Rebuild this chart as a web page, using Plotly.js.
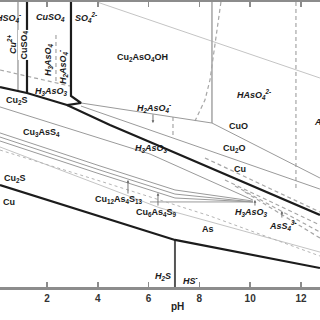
<!DOCTYPE html>
<html>
<head>
<meta charset="utf-8">
<script src="https://cdn.plot.ly/plotly-3.0.1.min.js"></script>
<style>html,body{margin:0;padding:0;background:#fff}#chart{width:320px;height:320px}</style>
</head>
<body>
<div id="chart"></div>
<script>
// ---- boundary lines (pH, Eh in V) ----
const o2LinePH = [3.968, 12.748];            const o2LineEh = [1.150, 0.630];
const cuVertPH = [0.858, 0.858];             const cuVertEh = [1.150, 0.541];
const sVert1PH = [1.213, 1.213];             const sVert1Eh = [1.150, 0.527];
const sVert2PH = [2.945, 2.945, 3.339, 2.787]; const sVert2Eh = [1.150, 0.507, 0.459, 0.445];
const thickUpperPH = [0.150, 1.213, 2.787, 4.480, 6.331, 12.079, 12.748];
const thickUpperEh = [0.568, 0.527, 0.445, 0.308, 0.172, -0.259, -0.307];
const asDashV1PH = [2.354, 2.354];           const asDashV1Eh = [0.924, 0.589];
const asDashDiagPH = [0.150, 2.905];         const asDashDiagEh = [0.685, 0.575];
const cuOLinePH = [3.339, 8.496, 12.748];    const cuOLineEh = [0.459, 0.322, -0.054];
const cu2OLinePH = [3.339, 12.748];          const cu2OLineEh = [0.438, -0.130];
const cuAsVertPH = [8.496, 8.496];           const cuAsVertEh = [1.150, 0.322];
const asDashCurvePH = [8.850, 8.653, 8.417, 8.220, 7.827];
const asDashCurveEh = [1.150, 0.890, 0.616, 0.479, 0.336];
const asDashV2PH = [6.961, 6.961];           const asDashV2Eh = [0.363, 0.219];
const asDashV3PH = [11.803, 11.803];         const asDashV3Eh = [1.150, -0.136];
const h3aso3TopPH = [0.150, 6.055, 10.110];  const h3aso3TopEh = [0.432, 0.110, -0.205];
const band1PH = [0.150, 4.087, 7.039, 10.110]; const band1Eh = [0.254, 0.028, -0.136, -0.212];
const band2PH = [0.150, 4.087, 7.039, 10.110]; const band2Eh = [0.226, 0.000, -0.164, -0.218];
const band3PH = [0.150, 4.087, 7.039, 10.110]; const band3Eh = [0.199, -0.027, -0.191, -0.218];
const bandFlatPH = [6.055, 10.110];          const bandFlatEh = [-0.218, -0.218];
const asLowPH = [0.150, 6.449, 12.748];      const asLowEh = [0.158, -0.259, -0.561];
const asDotPH = [0.150, 4.087, 8.417, 12.748]; const asDotEh = [0.137, -0.075, -0.314, -0.588];
const dashNearPH = [8.220, 12.748];          const dashNearEh = [0.083, -0.287];
const dashA1PH = [9.008, 12.748];            const dashA1Eh = [-0.068, -0.376];
const dashA2PH = [9.401, 12.748];            const dashA2Eh = [-0.109, -0.424];
const dashA3PH = [9.795, 12.748];            const dashA3Eh = [-0.150, -0.465];
const thickLowerPH = [0.150, 7.039, 12.748]; const thickLowerEh = [-0.102, -0.478, -0.670];
const h2sVertPH = [7.039, 7.039];            const h2sVertEh = [-0.478, -0.800];

// ---- axis ticks ----
const tickVals = [2, 4, 6, 8, 10, 12];
const tickText = ['2', '4', '6', '8', '10', '12'];

// ---- region labels ----
const labelText = [
  'HSO<sub>4</sub><sup>-</sup>', 'CuSO<sub>4</sub>', 'SO<sub>4</sub><sup>2-</sup>',
  'Cu<sup>2+</sup>', 'CuSO<sub>4</sub>', 'H<sub>3</sub>AsO<sub>4</sub>', 'H<sub>2</sub>AsO<sub>4</sub><sup>-</sup>',
  'Cu<sub>2</sub>AsO<sub>4</sub>OH', 'HAsO<sub>4</sub><sup>2-</sup>', 'AsO<sub>4</sub><sup>3-</sup>',
  'H<sub>3</sub>AsO<sub>3</sub>', 'Cu<sub>2</sub>S', 'H<sub>2</sub>AsO<sub>4</sub><sup>-</sup>',
  'CuO', 'Cu<sub>2</sub>O', 'Cu', 'Cu<sub>3</sub>AsS<sub>4</sub>', 'H<sub>3</sub>AsO<sub>3</sub>',
  'Cu<sub>2</sub>S', 'Cu', 'Cu<sub>12</sub>As<sub>4</sub>S<sub>13</sub>', 'Cu<sub>6</sub>As<sub>4</sub>S<sub>9</sub>',
  'As', 'H<sub>3</sub>AsO<sub>3</sub>', 'AsS<sub>4</sub><sup>3-</sup>', 'H<sub>2</sub>S', 'HS<sup>-</sup>'
];
const labelPH = [0.465, 2.157, 3.535, 0.622, 1.114, 2.039, 2.590, 5.779, 10.150, 12.470,
  2.197, 0.819, 6.210, 9.560, 9.400, 9.600, 1.800, 6.130, 0.740, 0.504, 4.835, 6.330,
  8.340, 10.070, 11.290, 6.570, 7.670];
const labelEh = [1.047, 1.047, 1.047, 0.863, 0.856, 0.760, 0.705, 0.767, 0.514, 0.329,
  0.541, 0.479, 0.425, 0.302, 0.151, 0.007, 0.260, 0.151, -0.061, -0.218, -0.198, -0.287,
  -0.403, -0.287, -0.376, -0.731, -0.752];
const labelKind = ['aq', 'aq', 'aq', 'aqRot', 'solidRot', 'aqRot', 'aqRot', 'solid', 'aq', 'aqLeft',
  'aq', 'solid', 'aq', 'solid', 'solid', 'solid', 'solid', 'aq', 'solid', 'solid', 'solid', 'solid',
  'solid', 'aq', 'aq', 'aq', 'aq'];

// ---- pointer arrows (tail -> tip) ----
const arrowTailPH = [6.173, 5.189, 6.370, 10.189, 11.250];
const arrowTailEh = [0.391, -0.171, -0.253, -0.253, -0.335];
const arrowTipPH  = [6.173, 5.189, 6.370, 10.189, 11.250];
const arrowTipEh  = [0.322, -0.068, -0.157, -0.205, -0.280];

const FONT = 'Arial, "Liberation Sans", sans-serif';
const ST = {
  thick: {color: '#1c1c1c', width: 2.2},
  thin: {color: '#9a9a9a', width: 1},
  light: {color: '#c4c4c4', width: 1},
  dash: {color: '#a6a6a6', width: 1.2, dash: '4px,3px'},
  dot: {color: '#b5b5b5', width: 1, dash: 'dot'},
  vgray: {color: '#aaaaaa', width: 1.6},
  vdark: {color: '#555555', width: 2}
};
const lines = [
  [o2LinePH, o2LineEh, 'light'], [cuVertPH, cuVertEh, 'vgray'], [cuAsVertPH, cuAsVertEh, 'vgray'],
  [asDashV1PH, asDashV1Eh, 'dash'], [asDashDiagPH, asDashDiagEh, 'dash'], [asDashCurvePH, asDashCurveEh, 'dash'],
  [asDashV2PH, asDashV2Eh, 'dash'], [asDashV3PH, asDashV3Eh, 'dash'],
  [cuOLinePH, cuOLineEh, 'thin'], [cu2OLinePH, cu2OLineEh, 'thin'], [h3aso3TopPH, h3aso3TopEh, 'thin'],
  [band1PH, band1Eh, 'thin'], [band2PH, band2Eh, 'thin'], [band3PH, band3Eh, 'thin'], [bandFlatPH, bandFlatEh, 'thin'],
  [asLowPH, asLowEh, 'light'], [asDotPH, asDotEh, 'dot'],
  [dashNearPH, dashNearEh, 'dash'], [dashA1PH, dashA1Eh, 'dash'], [dashA2PH, dashA2Eh, 'dash'], [dashA3PH, dashA3Eh, 'dash'],
  [h2sVertPH, h2sVertEh, 'vdark'],
  [sVert1PH, sVert1Eh, 'thick'], [sVert2PH, sVert2Eh, 'thick'], [thickUpperPH, thickUpperEh, 'thick'],
  [thickLowerPH, thickLowerEh, 'thick']
];
const traces = lines.map(([x, y, s]) => ({
  type: 'scatter', mode: 'lines', x: x, y: y, line: ST[s], hoverinfo: 'skip', showlegend: false
}));

const annotations = labelText.map((t, i) => {
  const k = labelKind[i];
  const italic = k.startsWith('aq');
  return {
    xref: 'x', yref: 'y', x: labelPH[i], y: labelEh[i], showarrow: false,
    text: italic ? '<b><i>' + t + '</i></b>' : '<b>' + t + '</b>',
    textangle: k.endsWith('Rot') ? -90 : 0,
    xanchor: k === 'aqLeft' ? 'left' : 'center',
    bgcolor: k === 'solidRot' ? '#ffffff' : 'rgba(0,0,0,0)',
    borderpad: 0,
    font: {family: FONT, size: 9, color: '#1a1a1a'}
  };
});
arrowTipPH.forEach((x, i) => annotations.push({
  xref: 'x', yref: 'y', axref: 'x', ayref: 'y', x: x, y: arrowTipEh[i],
  ax: arrowTailPH[i], ay: arrowTailEh[i], text: '', showarrow: true,
  arrowhead: 2, arrowsize: 0.6, arrowwidth: 0.9, arrowcolor: '#666', standoff: 0, startstandoff: 0
}));
annotations.push({
  xref: 'x', yref: 'paper', x: 7.12, y: -0.095, showarrow: false, text: '<b>pH</b>',
  font: {family: FONT, size: 10, color: '#222'}
});

const layout = {
  width: 320, height: 320,
  margin: {l: 0, r: 0, t: 2, b: 33, pad: 0},
  paper_bgcolor: '#fff', plot_bgcolor: '#fff',
  xaxis: {
    range: [0.15, 12.75], tickvals: tickVals, ticktext: tickText,
    ticks: 'inside', ticklen: 5, tickwidth: 1.5, tickcolor: '#8c8c8c',
    showline: true, linecolor: '#8c8c8c', linewidth: 3, mirror: 'ticks',
    showgrid: false, zeroline: false,
    tickfont: {family: FONT, size: 10, color: '#333', weight: 'bold'}
  },
  yaxis: {
    range: [-0.8, 1.15], showline: false, showticklabels: false, ticks: '',
    showgrid: false, zeroline: false
  },
  annotations: annotations
};
Plotly.newPlot('chart', traces, layout, {staticPlot: true, displayModeBar: false});
</script>
</body>
</html>
